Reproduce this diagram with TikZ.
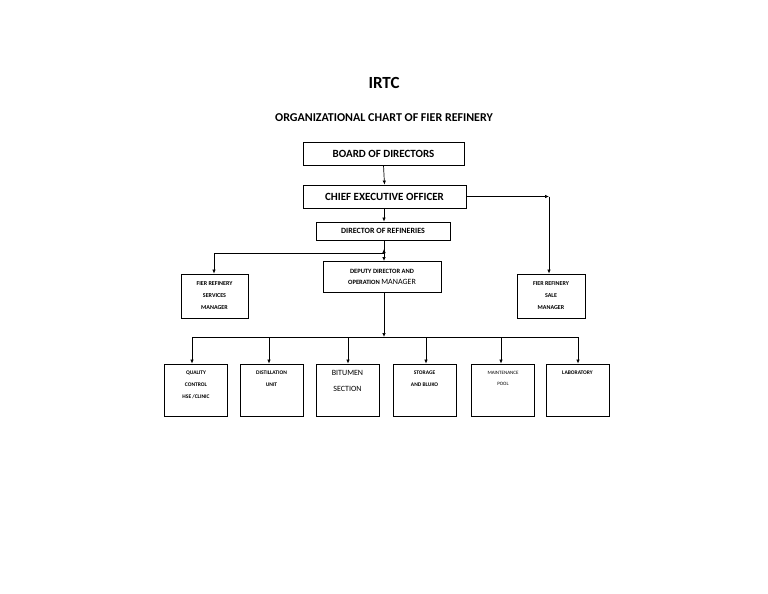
\documentclass[tikz,border=0pt]{standalone}
\usepackage{fontspec}
\setmainfont{Carlito}
\usetikzlibrary{arrows.meta}
\begin{document}
\begin{tikzpicture}[x=1pt,y=-1pt,
  bx/.style={draw,line width=0.8pt,inner sep=0pt,align=center,font=\bfseries},
  ar/.style={-{Latex[length=4pt,width=3.5pt]},line width=0.7pt}]
\useasboundingbox (0,0) rectangle (768,594);
\node[font=\bfseries\fontsize{17}{20}\selectfont] (t) at (384,83) {IRTC};
\node[font=\bfseries\fontsize{12}{14}\selectfont] (st) at (384,118) {ORGANIZATIONAL CHART OF FIER REFINERY};
\node[bx,minimum width=161,minimum height=23,font=\bfseries\fontsize{11}{13}\selectfont] (bod) at (383.5,153.5) {BOARD OF DIRECTORS};
\node[bx,minimum width=163,minimum height=23,font=\bfseries\fontsize{11}{13}\selectfont] (ceo) at (384.5,196.5) {CHIEF EXECUTIVE OFFICER};
\node[bx,minimum width=134,minimum height=18,font=\bfseries\fontsize{8}{10}\selectfont] (dir) at (383,231) {DIRECTOR OF REFINERIES};
\node[bx,minimum width=118,minimum height=31,font=\bfseries\fontsize{6.5}{11}\selectfont] (dep) at (382,276.5) {DEPUTY DIRECTOR AND\\OPERATION {\mdseries\fontsize{8}{11}\selectfont MANAGER}};
\node[bx,minimum width=67,minimum height=44,font=\bfseries\fontsize{6}{12}\selectfont] (srv) at (214.5,296) {FIER REFINERY\\SERVICES\\MANAGER};
\node[bx,minimum width=68,minimum height=44,font=\bfseries\fontsize{6}{12}\selectfont] (sale) at (551,296) {FIER REFINERY\\SALE\\MANAGER};
\tikzset{bot/.style={draw,line width=0.8pt,minimum width=63,minimum height=52,text depth=0pt,align=center}}
\node[bot] (qc) at (196,390) {};
\node[font=\bfseries\fontsize{5.5}{12}\selectfont,align=center,anchor=north] (qct) at (196,367) {QUALITY\\CONTROL\\HSE /CLINIC};
\node[bot] (du) at (271.5,390) {};
\node[font=\bfseries\fontsize{5.5}{12}\selectfont,align=center,anchor=north] (dut) at (271.5,367) {DISTILLATION\\UNIT};
\node[bot] (bs) at (347.5,390) {};
\node[font=\fontsize{8}{16}\selectfont,align=center,anchor=north] (bst) at (347.5,367) {BITUMEN\\SECTION};
\node[bot] (sb) at (424.5,390) {};
\node[font=\bfseries\fontsize{5.5}{12}\selectfont,align=center,anchor=north] (sbt) at (424.5,367) {STORAGE\\AND BLUKO};
\node[bot] (mp) at (503,390) {};
\node[font=\fontsize{5}{11}\selectfont,align=center,anchor=north] (mpt) at (503,368) {MAINTENANCE\\POOL};
\node[bot] (lab) at (577.5,390) {};
\node[font=\bfseries\fontsize{5.5}{12}\selectfont,align=center,anchor=north] (labt) at (577.5,367) {LABORATORY};
\draw[ar] (bod.south) -- (ceo.north);
\draw[ar] (384,208) -- (dir.north -| 384,0);
\coordinate (j) at (384,253);
\draw[line width=0.7pt] (384,240) -- (j);
\draw[ar] (j) -- (384,261);
\draw[ar] (384,253) -- (384,249);
\draw[ar] (j) -- (214,253) -- (srv.north -| 214,0);
\draw[ar] (ceo.east) -- (549,196.5);
\draw[ar] (549,196.5) -- (sale.north -| 549,0);
\coordinate (b) at (384,337);
\draw[ar] (dep.south -| 384,0) -- (b);
\draw[line width=0.7pt] (192,337) -- (578,337);
\foreach \n/\x in {qc/192,du/269,bs/348,sb/426,mp/501,lab/578}
  \draw[ar] (\x,337) -- (\n.north -| \x,0);
\end{tikzpicture}
\end{document}
